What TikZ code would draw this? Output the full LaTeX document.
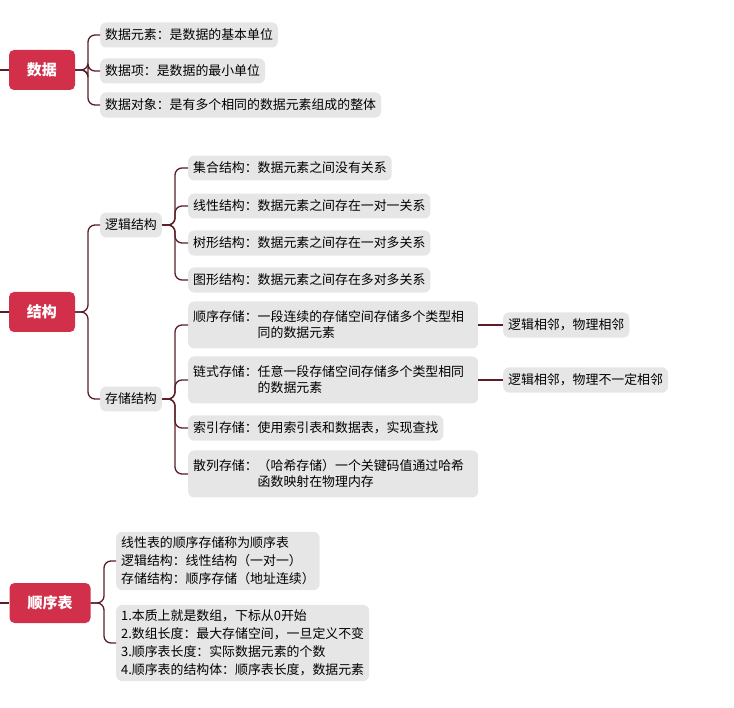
\documentclass[tikz,border=0pt]{standalone}
\usepackage{fontspec}
\setmainfont{Noto Sans CJK SC}
\usetikzlibrary{calc}
\definecolor{rootred}{HTML}{D2304A}
\definecolor{boxgray}{HTML}{E6E6E6}
\definecolor{linkred}{HTML}{5B1E27}
\tikzset{
  root/.style={fill=rootred,text=white,rounded corners=5pt,font=\fontsize{15}{17}\selectfont\bfseries,minimum height=40pt,inner xsep=18pt},
  topic/.style={fill=boxgray,rounded corners=6pt,anchor=west,align=left,font=\fontsize{12.9}{16}\selectfont,inner xsep=5pt,inner ysep=6.5pt},
  wide/.style={text width=280pt,inner ysep=4pt,minimum height=47pt},
  link/.style={draw=linkred,line width=1.3pt,rounded corners=7pt},
}
\newcommand{\hang}{\hphantom{顺序存储：}}
\begin{document}
\begin{tikzpicture}[x=1pt,y=-1pt]
  \useasboundingbox (0,0) rectangle (734,708);

  % shuju
  \node[root] (shuju) at (42,70) {数据};
  \node[topic] (shuju-yuansu) at (100,35) {数据元素：是数据的基本单位};
  \node[topic] (shuju-xiang) at (100,71) {数据项：是数据的最小单位};
  \node[topic] (shuju-duixiang) at (100,105) {数据对象：是有多个相同的数据元素组成的整体};
  \draw[link] (0,70) -- (shuju.west);
  \foreach \m in {shuju-yuansu,shuju-xiang,shuju-duixiang} {
    \draw[link] (shuju.east) -- (88,70) |- (\m.west);
  }

  % jiegou
  \node[root] (jiegou) at (42,312) {结构};
  \node[topic] (luoji) at (100,225) {逻辑结构};
  \node[topic] (cunchu) at (100,399) {存储结构};
  \draw[link] (0,312) -- (jiegou.west);
  \foreach \m in {luoji,cunchu} {
    \draw[link] (jiegou.east) -- (88,312) |- (\m.west);
  }

  \node[topic] (luoji-jihe) at (188,168) {集合结构：数据元素之间没有关系};
  \node[topic] (luoji-xianxing) at (188,206) {线性结构：数据元素之间存在一对一关系};
  \node[topic] (luoji-shuxing) at (188,243) {树形结构：数据元素之间存在一对多关系};
  \node[topic] (luoji-tuxing) at (188,280) {图形结构：数据元素之间存在多对多关系};
  \foreach \m in {luoji-jihe,luoji-xianxing,luoji-shuxing,luoji-tuxing} {
    \draw[link] (luoji.east) -- (175,225) |- (\m.west);
  }

  \node[topic,wide] (cunchu-shunxu) at (188,325) {顺序存储：一段连续的存储空间存储多个类型相\\\hang 同的数据元素};
  \node[topic,wide] (cunchu-lianshi) at (188,380) {链式存储：任意一段存储空间存储多个类型相同\\\hang 的数据元素};
  \node[topic] (cunchu-suoyin) at (188,428) {索引存储：使用索引表和数据表，实现查找};
  \node[topic,wide] (cunchu-sanlie) at (188,474) {散列存储：（哈希存储）一个关键码值通过哈希\\\hang 函数映射在物理内存};
  \foreach \m in {cunchu-shunxu,cunchu-lianshi,cunchu-suoyin,cunchu-sanlie} {
    \draw[link] (cunchu.east) -- (175,399) |- (\m.west);
  }

  \node[topic] (shunxu-xianglin) at (503,325) {逻辑相邻，物理相邻};
  \node[topic] (lianshi-xianglin) at (503,380) {逻辑相邻，物理不一定相邻};
  \draw[link] (cunchu-shunxu.east) -- (shunxu-xianglin.west);
  \draw[link] (cunchu-lianshi.east) -- (lianshi-xianglin.west);

  % shunxubiao
  \node[root] (shunxubiao) at (50,603) {顺序表};
  \node[topic,font=\fontsize{12.9}{18}\selectfont,inner ysep=5pt] (shunxubiao-dingyi) at (116,561) {线性表的顺序存储称为顺序表\\逻辑结构：线性结构（一对一）\\存储结构：顺序存储（地址连续）};
  \node[topic,font=\fontsize{12.9}{18}\selectfont,inner ysep=5pt] (shunxubiao-tedian) at (116,643) {1.本质上就是数组，下标从0开始\\2.数组长度：最大存储空间，一旦定义不变\\3.顺序表长度：实际数据元素的个数\\4.顺序表的结构体：顺序表长度，数据元素};
  \draw[link] (0,603) -- (shunxubiao.west);
  \foreach \m in {shunxubiao-dingyi,shunxubiao-tedian} {
    \draw[link] (shunxubiao.east) -- (104,603) |- (\m.west);
  }
\end{tikzpicture}
\end{document}
